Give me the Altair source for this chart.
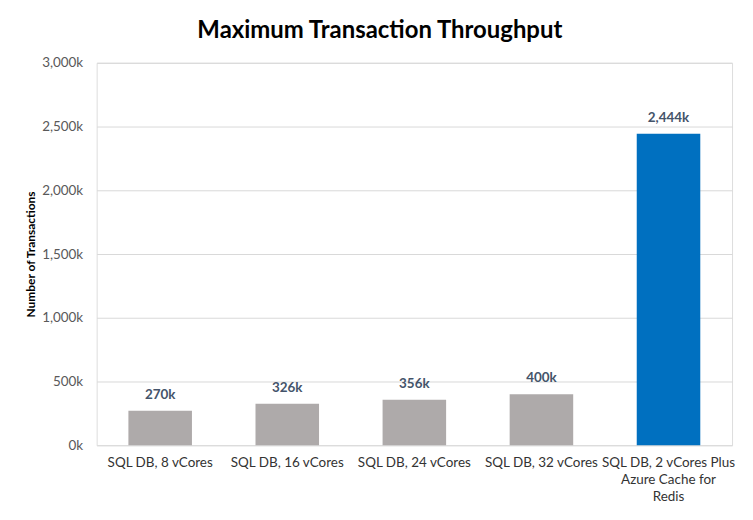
import altair as alt
import pandas as pd

categories = [
    "SQL DB, 8 vCores",
    "SQL DB, 16 vCores",
    "SQL DB, 24 vCores",
    "SQL DB, 32 vCores",
    "SQL DB, 2 vCores Plus|Azure Cache for|Redis",
]
values = [270000, 326000, 356000, 400000, 2444000]
colors = ["#AEAAAA", "#AEAAAA", "#AEAAAA", "#AEAAAA", "#0070C0"]

df = pd.DataFrame({"cat": categories, "val": values, "color": colors})

x = alt.X(
    "cat:N",
    sort=categories,
    title=None,
    scale=alt.Scale(paddingInner=0.5, paddingOuter=0.25),
    axis=alt.Axis(
        labelAngle=0,
        labelExpr="split(datum.label, '|')",
        labelFont="Lato",
        labelFontSize=13.5,
        labelColor="#333333",
        labelLimit=300,
        labelPadding=10,
        ticks=False,
        domain=False,
        labelLineHeight=17,
    ),
)

y = alt.Y(
    "val:Q",
    title="Number of Transactions",
    scale=alt.Scale(domain=[0, 3000000]),
    axis=alt.Axis(
        values=[0, 500000, 1000000, 1500000, 2000000, 2500000, 3000000],
        labelExpr="format(datum.value / 1000, ',') + 'k'",
        labelFont="Lato",
        labelFontSize=13.5,
        labelColor="#595959",
        labelPadding=14,
        ticks=False,
        domain=False,
        grid=True,
        gridColor="#D9D9D9",
        titleFont="Lato",
        titleFontSize=12,
        titleFontWeight="bold",
        titleColor="#000000",
        titlePadding=4,
    ),
)

bars = alt.Chart(df).mark_bar().encode(
    x=x,
    y=y,
    color=alt.Color("color:N", scale=None, legend=None),
)

text = alt.Chart(df).mark_text(
    baseline="bottom",
    dy=-9,
    font="Lato",
    fontSize=13.5,
    fontWeight="bold",
    color="#44546A",
).encode(
    x=alt.X("cat:N", sort=categories),
    y="val:Q",
    text=alt.Text("label:N"),
).transform_calculate(label="format(datum.val / 1000, ',') + 'k'")

chart = (
    alt.layer(bars, text)
    .properties(
        width=638,
        height=384,
        title=alt.TitleParams(
            "Maximum Transaction Throughput",
            font="Lato",
            fontSize=24,
            fontWeight="bold",
            color="#000000",
            offset=13,
            anchor="middle",
            frame="bounds",
        ),
        padding={"left": 16, "top": 10, "right": 10, "bottom": 5},
    )
    .configure_view(stroke=None)
    .configure(background="white")
)

chart.save("out.html", embed_options={"renderer": "svg", "actions": False})
